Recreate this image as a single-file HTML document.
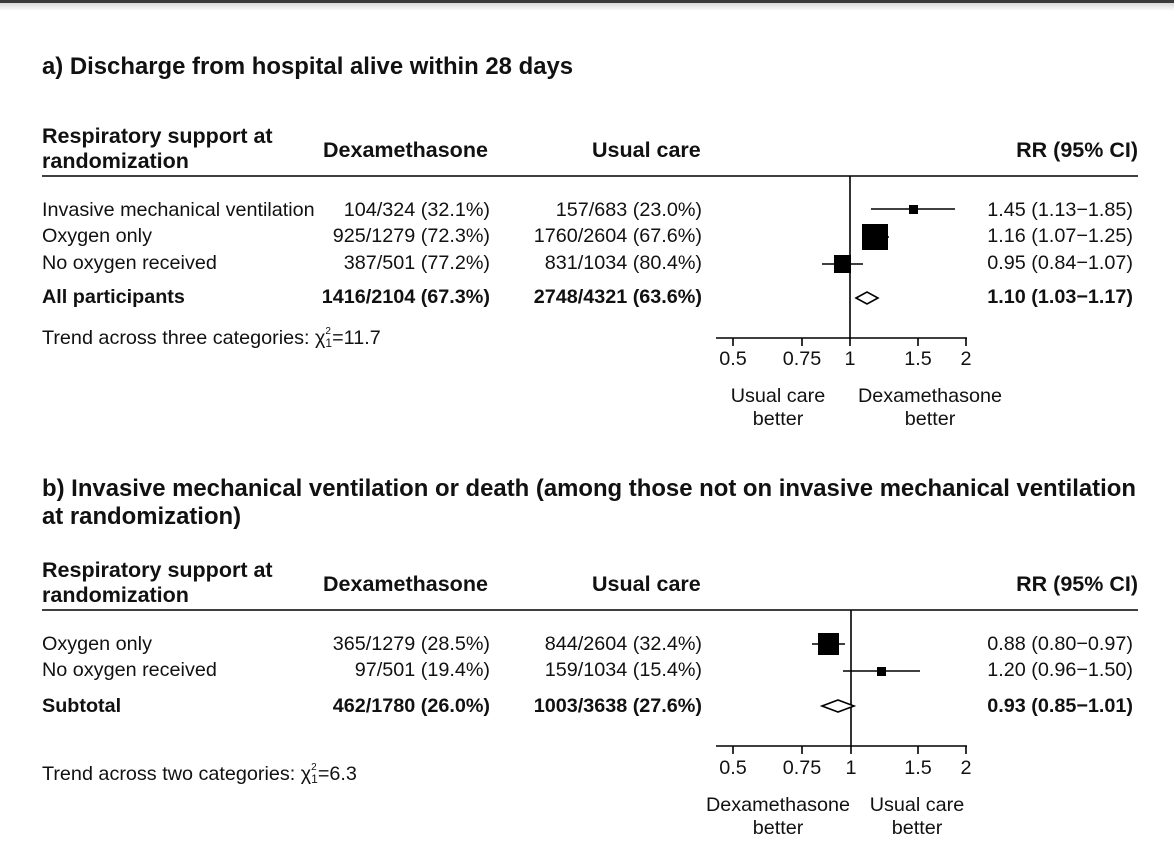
<!DOCTYPE html>
<html><head><meta charset="utf-8"><style>
body{margin:0;width:1174px;height:861px;background:#fff;position:relative;overflow:hidden;font-family:"Liberation Sans",Arial,sans-serif;color:#111}
.t{position:absolute;white-space:nowrap;font-size:19.8px;line-height:20px}
.b{font-weight:bold}
.r{text-align:right}
.c{text-align:center}
.h{font-size:23.9px;font-weight:bold;line-height:28px}
.hd{font-size:21.5px;font-weight:bold;line-height:25px}
</style></head><body>
<div style="position:absolute;left:0;top:0;width:1174px;height:3px;background:#3a3a3a"></div>
<div style="position:absolute;left:0;top:3px;width:1174px;height:8px;background:linear-gradient(#d8d8d8,#fff)"></div>

<div class="t h" style="left:42px;top:53px">a) Discharge from hospital alive within 28 days</div>
<div class="t hd" style="left:42px;top:124px">Respiratory support at<br>randomization</div>
<div class="t hd" style="left:323px;top:138px">Dexamethasone</div>
<div class="t hd" style="left:592px;top:138px">Usual care</div>
<div class="t hd r" style="left:938px;width:200px;top:138px">RR (95% CI)</div>

<div class="t" style="left:42px;top:200px">Invasive mechanical ventilation</div>
<div class="t" style="left:42px;top:226px">Oxygen only</div>
<div class="t" style="left:42px;top:253px">No oxygen received</div>
<div class="t b" style="left:42px;top:287px">All participants</div>
<div class="t" style="left:42px;top:328px">Trend across three categories: χ<span style="display:inline-block;position:relative;font-size:12px;line-height:10px;vertical-align:-3px"><sup style="position:absolute;top:-11px;left:0">2</sup>1</span>=11.7</div>

<div class="t r" style="left:290px;width:200px;top:200px">104/324 (32.1%)</div>
<div class="t r" style="left:290px;width:200px;top:226px">925/1279 (72.3%)</div>
<div class="t r" style="left:290px;width:200px;top:253px">387/501 (77.2%)</div>
<div class="t r b" style="left:290px;width:200px;top:287px">1416/2104 (67.3%)</div>
<div class="t r" style="left:500px;width:202px;top:200px">157/683 (23.0%)</div>
<div class="t r" style="left:500px;width:202px;top:226px">1760/2604 (67.6%)</div>
<div class="t r" style="left:500px;width:202px;top:253px">831/1034 (80.4%)</div>
<div class="t r b" style="left:500px;width:202px;top:287px">2748/4321 (63.6%)</div>
<div class="t r" style="left:930px;width:203px;top:200px">1.45 (1.13−1.85)</div>
<div class="t r" style="left:930px;width:203px;top:226px">1.16 (1.07−1.25)</div>
<div class="t r" style="left:930px;width:203px;top:253px">0.95 (0.84−1.07)</div>
<div class="t r b" style="left:930px;width:203px;top:287px">1.10 (1.03−1.17)</div>

<div class="t h" style="left:42px;top:475px;line-height:28px">b) Invasive mechanical ventilation or death (among those not on invasive mechanical ventilation<br>at randomization)</div>
<div class="t hd" style="left:42px;top:558px">Respiratory support at<br>randomization</div>
<div class="t hd" style="left:323px;top:572px">Dexamethasone</div>
<div class="t hd" style="left:592px;top:572px">Usual care</div>
<div class="t hd r" style="left:938px;width:200px;top:572px">RR (95% CI)</div>

<div class="t" style="left:42px;top:634px">Oxygen only</div>
<div class="t" style="left:42px;top:660px">No oxygen received</div>
<div class="t b" style="left:42px;top:696px">Subtotal</div>
<div class="t" style="left:42px;top:764px">Trend across two categories: χ<span style="display:inline-block;position:relative;font-size:12px;line-height:10px;vertical-align:-3px"><sup style="position:absolute;top:-11px;left:0">2</sup>1</span>=6.3</div>
<div class="t r" style="left:290px;width:200px;top:634px">365/1279 (28.5%)</div>
<div class="t r" style="left:290px;width:200px;top:660px">97/501 (19.4%)</div>
<div class="t r b" style="left:290px;width:200px;top:696px">462/1780 (26.0%)</div>
<div class="t r" style="left:500px;width:202px;top:634px">844/2604 (32.4%)</div>
<div class="t r" style="left:500px;width:202px;top:660px">159/1034 (15.4%)</div>
<div class="t r b" style="left:500px;width:202px;top:696px">1003/3638 (27.6%)</div>
<div class="t r" style="left:930px;width:203px;top:634px">0.88 (0.80−0.97)</div>
<div class="t r" style="left:930px;width:203px;top:660px">1.20 (0.96−1.50)</div>
<div class="t r b" style="left:930px;width:203px;top:696px">0.93 (0.85−1.01)</div>

<svg width="1174" height="861" style="position:absolute;left:0;top:0" stroke="#000" stroke-width="1.6" fill="#000">
<line x1="42" y1="176" x2="1138" y2="176"/>
<line x1="850" y1="176" x2="850" y2="338"/>
<line x1="716" y1="338" x2="967" y2="338"/>
<g><line x1="733" y1="338" x2="733" y2="346"/><line x1="802" y1="338" x2="802" y2="346"/><line x1="850" y1="338" x2="850" y2="346"/><line x1="918" y1="338" x2="918" y2="346"/><line x1="966" y1="338" x2="966" y2="346"/></g>
<line x1="871" y1="209" x2="955" y2="209"/><rect x="909" y="205" width="9" height="9" stroke="none"/>
<line x1="862" y1="237" x2="889" y2="237"/><rect x="862" y="224" width="26" height="26" stroke="none"/>
<line x1="822" y1="264" x2="863" y2="264"/><rect x="834" y="255" width="17" height="18" stroke="none"/>
<polygon points="856,298 867,292 878,298 867,304" fill="#fff"/>

<line x1="42" y1="610" x2="1138" y2="610"/>
<line x1="851" y1="610" x2="851" y2="746"/>
<line x1="716" y1="746" x2="967" y2="746"/>
<g><line x1="733" y1="746" x2="733" y2="754"/><line x1="802" y1="746" x2="802" y2="754"/><line x1="851" y1="746" x2="851" y2="754"/><line x1="918" y1="746" x2="918" y2="754"/><line x1="966" y1="746" x2="966" y2="754"/></g>
<line x1="812" y1="644" x2="845" y2="644"/><rect x="818" y="633" width="21" height="22" stroke="none"/>
<line x1="843" y1="671" x2="920" y2="671"/><rect x="877" y="667" width="9" height="9" stroke="none"/>
<polygon points="822,706 838,700 854,706 838,712" fill="#fff"/>
</svg>

<div class="t c" style="left:703px;width:60px;top:349px">0.5</div>
<div class="t c" style="left:772px;width:60px;top:349px">0.75</div>
<div class="t c" style="left:820px;width:60px;top:349px">1</div>
<div class="t c" style="left:888px;width:60px;top:349px">1.5</div>
<div class="t c" style="left:936px;width:60px;top:349px">2</div>
<div class="t c" style="left:708px;width:140px;top:385px;line-height:23px">Usual care<br>better</div>
<div class="t c" style="left:840px;width:180px;top:385px;line-height:23px">Dexamethasone<br>better</div>

<div class="t c" style="left:703px;width:60px;top:758px">0.5</div>
<div class="t c" style="left:772px;width:60px;top:758px">0.75</div>
<div class="t c" style="left:821px;width:60px;top:758px">1</div>
<div class="t c" style="left:888px;width:60px;top:758px">1.5</div>
<div class="t c" style="left:936px;width:60px;top:758px">2</div>
<div class="t c" style="left:688px;width:180px;top:794px;line-height:23px">Dexamethasone<br>better</div>
<div class="t c" style="left:847px;width:140px;top:794px;line-height:23px">Usual care<br>better</div>
</body></html>
